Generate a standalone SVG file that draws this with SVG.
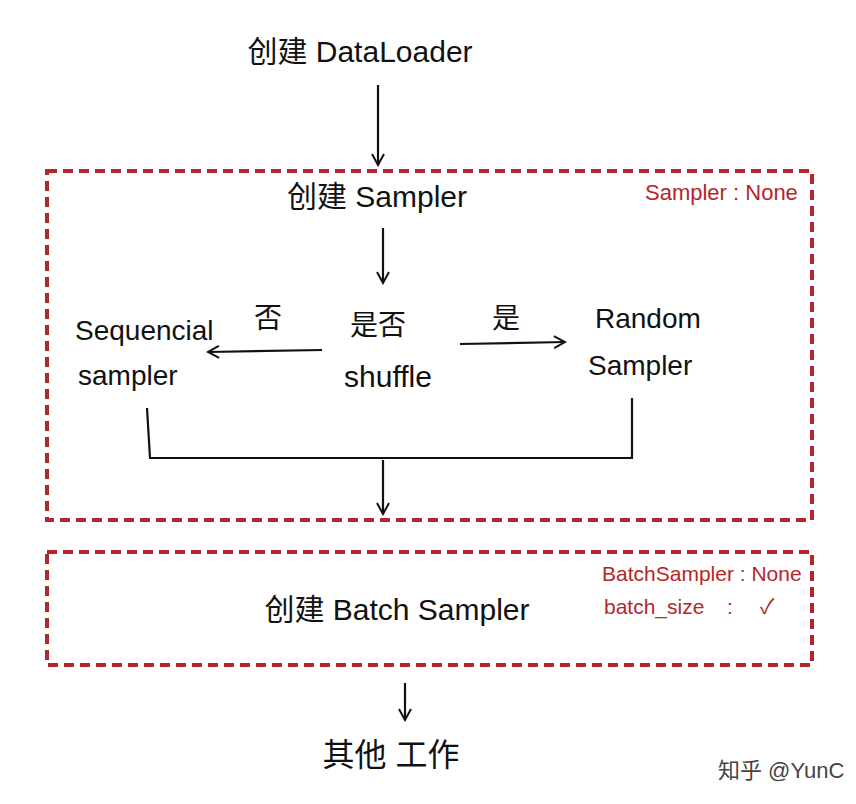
<svg xmlns="http://www.w3.org/2000/svg" width="856" height="804" viewBox="0 0 856 804">
<defs>
<marker id="ah" markerWidth="14" markerHeight="14" refX="12" refY="7" orient="auto" markerUnits="userSpaceOnUse">
<path d="M1,1 L12,7 L1,13" fill="none" stroke="#111" stroke-width="2"/>
</marker>
<style>
.t{font-family:"Liberation Sans","Noto Sans CJK SC",sans-serif;fill:#111;}
.r{font-family:"Liberation Sans","Noto Sans CJK SC",sans-serif;fill:#b5262a;}
.box{fill:none;stroke:#b5262a;stroke-width:4;stroke-dasharray:10,6;}
.ln{fill:none;stroke:#111;stroke-width:2.2;}
</style>
</defs>
<rect width="856" height="804" fill="#fff"/>
<g id="box1"><rect class="box" x="47" y="171" width="765" height="349"/>
<text class="r" x="645" y="200" font-size="22">Sampler : None</text></g>
<g id="box2"><rect class="box" x="47" y="552" width="765" height="113"/>
<text class="r" x="602" y="581" font-size="21">BatchSampler : None</text>
<text class="r" x="604" y="614" font-size="21">batch_size<tspan x="727">:</tspan><tspan x="760">✓</tspan></text></g>
<g id="n_dataloader"><text class="t" x="360" y="62" font-size="30" text-anchor="middle">创建 DataLoader</text></g>
<g id="n_sampler"><text class="t" x="377" y="207" font-size="30" text-anchor="middle">创建 Sampler</text></g>
<g id="n_shuffle"><text class="t" x="378" y="335" font-size="28" text-anchor="middle">是否</text>
<text class="t" x="388" y="387" font-size="30" text-anchor="middle">shuffle</text></g>
<g id="n_seq"><text class="t" x="75" y="340" font-size="28">Sequencial</text>
<text class="t" x="78" y="385" font-size="28">sampler</text></g>
<g id="n_rand"><text class="t" x="595" y="328" font-size="28">Random</text>
<text class="t" x="588" y="375" font-size="28">Sampler</text></g>
<g id="n_batch"><text class="t" x="397" y="620" font-size="30" text-anchor="middle">创建 Batch Sampler</text></g>
<g id="n_other"><text class="t" x="391" y="766" font-size="32" text-anchor="middle">其他 工作</text></g>
<g id="connectors">
<line class="ln" x1="378" y1="85" x2="378" y2="165" marker-end="url(#ah)"/>
<line class="ln" x1="383" y1="228" x2="383" y2="283" marker-end="url(#ah)"/>
<line class="ln" x1="322" y1="350" x2="208" y2="352" marker-end="url(#ah)"/>
<text class="t" x="268" y="328" font-size="28" text-anchor="middle">否</text>
<line class="ln" x1="460" y1="344" x2="565" y2="342" marker-end="url(#ah)"/>
<text class="t" x="506" y="328" font-size="28" text-anchor="middle">是</text>
<path class="ln" d="M147,408 L150,458 L632,458 L632,398"/>
<line class="ln" x1="383" y1="460" x2="383" y2="514" marker-end="url(#ah)"/>
<line class="ln" x1="405" y1="683" x2="405" y2="720" marker-end="url(#ah)"/>
</g>
<text x="718" y="778" font-size="22" fill="#444" font-family="Liberation Sans,Noto Sans CJK SC,sans-serif">知乎 @YunC</text>
</svg>
